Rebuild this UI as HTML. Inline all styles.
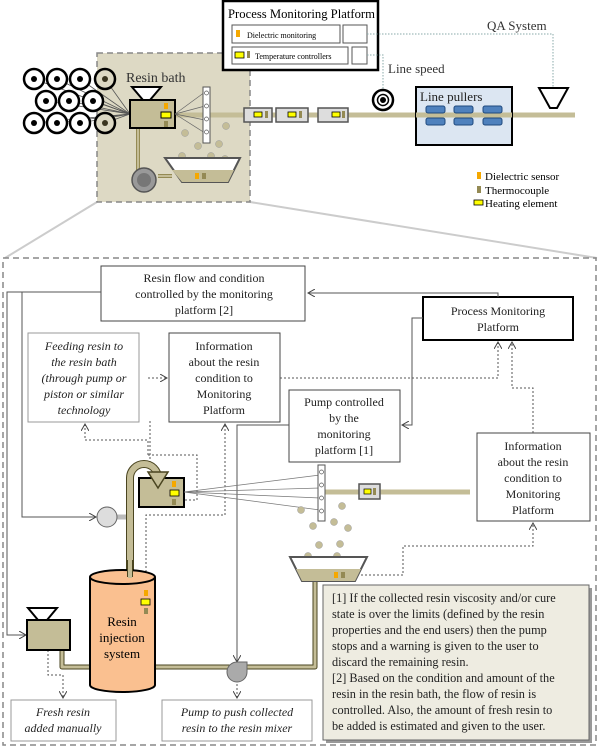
<!DOCTYPE html>
<html><head><meta charset="utf-8"><style>
html,body{margin:0;padding:0;background:#fff}
svg{display:block;font-family:"Liberation Serif",serif}
</style></head><body>
<svg width="600" height="747" viewBox="0 0 600 747" xmlns="http://www.w3.org/2000/svg">
<defs>
<marker id="a" markerWidth="8" markerHeight="8" refX="7" refY="4" orient="auto" markerUnits="userSpaceOnUse"><path d="M0,0 L7,4 L0,8" fill="none" stroke="#444" stroke-width="1"/></marker>
</defs>
<line x1="97" y1="202" x2="5" y2="258" stroke="#ccc" stroke-width="2"/>
<line x1="250" y1="202" x2="597" y2="258" stroke="#ccc" stroke-width="2"/>
<rect x="97" y="53" width="153" height="149" fill="#ddd9c4" stroke="#888" stroke-width="1.5" stroke-dasharray="6,4"/>
<g stroke="#555" stroke-width="0.8">
<line x1="34" y1="79" x2="130" y2="114"/><line x1="57" y1="79" x2="130" y2="114"/><line x1="80" y1="79" x2="130" y2="114"/><line x1="105" y1="79" x2="130" y2="114"/>
<line x1="46" y1="101" x2="130" y2="114"/><line x1="69" y1="101" x2="130" y2="114"/><line x1="93" y1="101" x2="130" y2="114"/>
<line x1="34" y1="123" x2="130" y2="114"/><line x1="57" y1="123" x2="130" y2="114"/><line x1="80" y1="123" x2="130" y2="114"/><line x1="105" y1="123" x2="130" y2="114"/>
</g>
<g stroke="#000" stroke-width="2.5" fill="#fff">
<circle cx="34" cy="79" r="10"/><circle cx="57" cy="79" r="10"/><circle cx="80" cy="79" r="10"/><circle cx="105" cy="79" r="10" fill="#ddd9c4"/>
<circle cx="46" cy="101" r="10"/><circle cx="69" cy="101" r="10"/><circle cx="93" cy="101" r="10"/>
<circle cx="34" cy="123" r="10"/><circle cx="57" cy="123" r="10"/><circle cx="80" cy="123" r="10"/><circle cx="105" cy="123" r="10" fill="#ddd9c4"/>
</g>
<g fill="#000"><circle cx="34" cy="79" r="3"/><circle cx="57" cy="79" r="3"/><circle cx="80" cy="79" r="3"/><circle cx="105" cy="79" r="3" fill="#3a3520"/>
<circle cx="46" cy="101" r="3"/><circle cx="69" cy="101" r="3"/><circle cx="93" cy="101" r="3"/>
<circle cx="34" cy="123" r="3"/><circle cx="57" cy="123" r="3"/><circle cx="80" cy="123" r="3"/><circle cx="105" cy="123" r="3" fill="#3a3520"/></g>
<text x="126" y="82" font-size="14" fill="#333">Resin bath</text>
<line x1="175" y1="115" x2="575" y2="115" stroke="#c4bd97" stroke-width="5"/>
<path d="M138,128 V178 H150 M158,176 H172" stroke="#948a54" stroke-width="4" fill="none"/>
<path d="M138,128 V178 H150 M158,176 H172" stroke="#c4bd97" stroke-width="2" fill="none"/>
<circle cx="144" cy="180" r="12" fill="#999" stroke="#555" stroke-width="1.5"/><circle cx="144" cy="180" r="7" fill="#777"/>
<polygon points="132,87 161,87 150,100 143,100" fill="#fff" stroke="#000" stroke-width="2"/>
<rect x="130" y="100" width="45" height="28" fill="#c4bd97" stroke="#000" stroke-width="2"/>
<rect x="164" y="103" width="4" height="6" fill="#f5a800"/><rect x="161" y="112" width="10" height="6" fill="#ff0" stroke="#000" stroke-width="1"/><rect x="164" y="121" width="4" height="6" fill="#948a54"/>
<g stroke="#666" stroke-width="0.7"><line x1="175" y1="114" x2="205" y2="92"/><line x1="175" y1="114" x2="205" y2="106"/><line x1="175" y1="114" x2="205" y2="120"/><line x1="175" y1="114" x2="205" y2="133"/></g>
<rect x="203" y="87" width="7" height="56" fill="#fff" stroke="#555"/>
<g fill="#fff" stroke="#555" stroke-width="0.7"><circle cx="206.5" cy="93" r="2"/><circle cx="206.5" cy="106" r="2"/><circle cx="206.5" cy="119" r="2"/><circle cx="206.5" cy="132" r="2"/></g>
<g fill="#c4bd97" stroke="#999" stroke-width="0.5"><circle cx="185" cy="133" r="3.5"/><circle cx="226" cy="126" r="3.5"/><circle cx="198" cy="146" r="3.5"/><circle cx="219" cy="144" r="3.5"/><circle cx="182" cy="156" r="3.5"/><circle cx="211" cy="156" r="3.5"/><circle cx="225" cy="159" r="3.5"/></g>
<polygon points="165,158 240,158 228,182 182,182" fill="#fff" stroke="#555" stroke-width="2"/>
<polygon points="172,170 234,170 228,182 182,182" fill="#c4bd97"/>
<rect x="195" y="173" width="4" height="6" fill="#f5a800"/><rect x="202" y="173" width="4" height="6" fill="#948a54"/>
<g stroke="#555" stroke-width="1.5"><rect x="244" y="108" width="28" height="14" fill="#ddd"/><rect x="276" y="108" width="32" height="14" fill="#ddd"/><rect x="318" y="108" width="30" height="14" fill="#ddd"/></g>
<g fill="#ff0" stroke="#000" stroke-width="0.8"><rect x="254" y="112" width="8" height="5"/><rect x="288" y="112" width="8" height="5"/><rect x="332" y="112" width="8" height="5"/></g>
<g fill="#948a54"><rect x="265" y="111" width="3" height="7"/><rect x="299" y="111" width="3" height="7"/><rect x="342" y="111" width="3" height="7"/></g>
<rect x="223" y="1" width="155" height="69" fill="#fff" stroke="#000" stroke-width="2.5"/>
<text x="228" y="18" font-size="12.5" textLength="147" lengthAdjust="spacingAndGlyphs">Process Monitoring  Platform</text>
<rect x="232" y="25" width="108" height="18" fill="#fff" stroke="#555"/><rect x="343" y="25" width="24" height="18" fill="#fff" stroke="#555"/>
<rect x="236" y="30" width="4" height="7" fill="#f5a800"/>
<text x="247" y="38" font-size="8">Dielectric monitoring</text>
<rect x="232" y="47" width="116" height="17" fill="#fff" stroke="#555"/><rect x="352" y="47" width="15" height="17" fill="#fff" stroke="#555"/>
<rect x="235" y="52" width="9" height="6" fill="#ff0" stroke="#000" stroke-width="0.8"/><rect x="247" y="51" width="3" height="7" fill="#948a54"/>
<text x="255" y="59" font-size="8">Temperature controllers</text>
<path d="M367,34 H553 V88" stroke="#8aa" stroke-width="1" stroke-dasharray="1.5,1.5" fill="none"/>
<path d="M367,55 H383 V90" stroke="#8aa" stroke-width="1" stroke-dasharray="1.5,1.5" fill="none"/>
<text x="487" y="30" font-size="13" fill="#333">QA System</text>
<text x="388" y="73" font-size="13" fill="#333">Line speed</text>
<circle cx="383" cy="100" r="10" fill="#fff" stroke="#000" stroke-width="2.5"/><circle cx="383" cy="100" r="5.5" fill="#fff" stroke="#000" stroke-width="1.5"/><circle cx="383" cy="100" r="3" fill="#000"/>
<rect x="416" y="87" width="96" height="58" fill="#dce6f2" stroke="#000" stroke-width="2"/>
<line x1="416" y1="115" x2="512" y2="115" stroke="#c4bd97" stroke-width="5"/>
<text x="420" y="101" font-size="13" fill="#222">Line pullers</text>
<g fill="#4f81bd" stroke="#1f497d" stroke-width="1"><rect x="426" y="106" width="19" height="7" rx="2"/><rect x="454" y="106" width="19" height="7" rx="2"/><rect x="483" y="106" width="19" height="7" rx="2"/><rect x="426" y="118" width="19" height="7" rx="2"/><rect x="454" y="118" width="19" height="7" rx="2"/><rect x="483" y="118" width="19" height="7" rx="2"/></g>
<polygon points="539,88 568,88 557,108 550,108" fill="#fff" stroke="#000" stroke-width="2"/>
<rect x="477" y="172" width="4" height="7" fill="#f5a800"/><text x="485" y="180" font-size="11">Dielectric sensor</text>
<rect x="477" y="186" width="4" height="7" fill="#948a54"/><text x="485" y="194" font-size="11">Thermocouple</text>
<rect x="474" y="200" width="9" height="5" fill="#ff0" stroke="#000" stroke-width="0.8"/><text x="485" y="207" font-size="11">Heating element</text>

<rect x="3" y="258" width="593" height="487" fill="none" stroke="#888" stroke-width="1.5" stroke-dasharray="6,4"/>
<g font-size="12" text-anchor="middle" fill="#222">
<rect x="101" y="266" width="204" height="55" fill="#fff" stroke="#444"/>
<text x="204" y="282">Resin flow and condition</text><text x="204" y="298">controlled by the monitoring</text><text x="204" y="314">platform [2]</text>
<rect x="28" y="333" width="111" height="89" fill="#fff" stroke="#999"/>
<g font-style="italic"><text x="84" y="350">Feeding resin to</text><text x="84" y="366">the resin bath</text><text x="84" y="382">(through pump or</text><text x="84" y="398">piston or similar</text><text x="84" y="414">technology</text></g>
<rect x="169" y="333" width="111" height="89" fill="#fff" stroke="#444"/>
<text x="224" y="350">Information</text><text x="224" y="366">about the resin</text><text x="224" y="382">condition to</text><text x="224" y="398">Monitoring</text><text x="224" y="414">Platform</text>
<rect x="423" y="297" width="150" height="43" fill="#fff" stroke="#000" stroke-width="2"/>
<text x="498" y="315">Process Monitoring</text><text x="498" y="331">Platform</text>
<rect x="289" y="390" width="111" height="72" fill="#fff" stroke="#444"/>
<text x="344" y="406">Pump  controlled</text><text x="344" y="422">by the</text><text x="344" y="438">monitoring</text><text x="344" y="454">platform [1]</text>
<rect x="477" y="433" width="113" height="88" fill="#fff" stroke="#444"/>
<text x="533" y="450">Information</text><text x="533" y="466">about the resin</text><text x="533" y="482">condition to</text><text x="533" y="498">Monitoring</text><text x="533" y="514">Platform</text>
<rect x="11" y="700" width="105" height="41" fill="#fff" stroke="#999"/>
<rect x="162" y="700" width="150" height="41" fill="#fff" stroke="#999"/>
<g font-style="italic"><text x="63" y="716">Fresh resin</text><text x="63" y="732">added manually</text>
<text x="237" y="716">Pump to push collected</text><text x="237" y="732">resin to the resin mixer</text></g>
</g>
<g stroke="#555" stroke-width="1" fill="none">
<path d="M101,292 H7 V635 H26" marker-end="url(#a)"/>
<path d="M22,292 V517 H96" marker-end="url(#a)"/>
<path d="M498,297 V293 H308" marker-end="url(#a)"/>
<path d="M423,318 H412 V425 H402" marker-end="url(#a)"/>
<path d="M289,425 H237 V662" marker-end="url(#a)"/>
</g>
<g stroke="#555" stroke-width="1" fill="none" stroke-dasharray="2,2">
<path d="M280,378 H498 V342" marker-end="url(#a)"/>
<path d="M533,433 V388 H512 V342" marker-end="url(#a)"/>
<path d="M345,575 H403 V546 H533 V523" marker-end="url(#a)"/>
<path d="M148,455 H197 V500 H185"/>
<path d="M146,600 V515 H225 V424" marker-end="url(#a)"/>
<path d="M148,455 V440 H85 V424" marker-end="url(#a)"/>
<path d="M150,463 V420"/>
<path d="M148,378 H167" marker-end="url(#a)"/>
<path d="M48,650 V675 H63 V698" marker-end="url(#a)"/>
<path d="M237,680 V698" marker-end="url(#a)"/>
</g>
<g fill="none" stroke-linejoin="round">
<path d="M62,650 V667 H315 V580" stroke="#4a4520" stroke-width="5"/>
<path d="M62,650 V667 H315 V580" stroke="#c4bd97" stroke-width="3"/>
<path d="M130,578 V478 A14,14 0 0 1 158,478" stroke="#4a4520" stroke-width="8"/>
<path d="M130,578 V478 A14,14 0 0 1 158,478" stroke="#c4bd97" stroke-width="6"/>
<line x1="324" y1="492" x2="470" y2="492" stroke="#c4bd97" stroke-width="5"/>
<line x1="117" y1="517" x2="126" y2="517" stroke="#bbb" stroke-width="5"/>
</g>
<path d="M90,577 V685 A32.5,7 0 0 0 155,685 V577" fill="#fac090" stroke="#000" stroke-width="2"/>
<ellipse cx="122.5" cy="577" rx="32.5" ry="7" fill="#fac090" stroke="#000" stroke-width="2"/>
<line x1="130" y1="560" x2="130" y2="577" stroke="#4a4520" stroke-width="6"/><line x1="130" y1="560" x2="130" y2="578" stroke="#c4bd97" stroke-width="4"/>
<text x="122" y="626" font-size="13" text-anchor="middle">Resin</text><text x="122" y="642" font-size="13" text-anchor="middle">injection</text><text x="122" y="658" font-size="13" text-anchor="middle">system</text>
<rect x="144" y="590" width="4" height="6" fill="#f5a800"/><rect x="141" y="599" width="9" height="6" fill="#ff0" stroke="#000" stroke-width="0.8"/><rect x="144" y="608" width="4" height="6" fill="#948a54"/>
<rect x="139" y="478" width="45" height="29" fill="#c4bd97" stroke="#000" stroke-width="2"/>
<polygon points="148,472 168,472 158,488" fill="#c4bd97" stroke="#4a4520" stroke-width="1.5"/>
<rect x="172" y="481" width="4" height="6" fill="#f5a800"/><rect x="170" y="490" width="9" height="6" fill="#ff0" stroke="#000" stroke-width="0.8"/><rect x="172" y="499" width="4" height="6" fill="#948a54"/>
<g stroke="#777" stroke-width="0.7"><line x1="184" y1="492" x2="320" y2="475"/><line x1="184" y1="492" x2="320" y2="488"/><line x1="184" y1="492" x2="320" y2="498"/><line x1="184" y1="492" x2="320" y2="510"/></g>
<rect x="318" y="465" width="7" height="56" fill="#fff" stroke="#555"/>
<g fill="#fff" stroke="#555" stroke-width="0.7"><circle cx="321.5" cy="472" r="2"/><circle cx="321.5" cy="485" r="2"/><circle cx="321.5" cy="498" r="2"/><circle cx="321.5" cy="511" r="2"/></g>
<rect x="359" y="484" width="21" height="15" fill="#ddd" stroke="#555" stroke-width="1.5"/><rect x="364" y="489" width="7" height="5" fill="#ff0" stroke="#000" stroke-width="0.7"/><rect x="373" y="488" width="3" height="7" fill="#948a54"/>
<g fill="#c4bd97" stroke="#999" stroke-width="0.5"><circle cx="301" cy="510" r="3.5"/><circle cx="342" cy="506" r="3.5"/><circle cx="313" cy="526" r="3.5"/><circle cx="334" cy="522" r="3.5"/><circle cx="348" cy="528" r="3.5"/><circle cx="319" cy="545" r="3.5"/><circle cx="340" cy="544" r="3.5"/><circle cx="308" cy="556" r="3.5"/><circle cx="337" cy="556" r="3.5"/><circle cx="351" cy="560" r="3.5"/></g>
<polygon points="290,557 367,557 355,581 302,581" fill="#fff" stroke="#555" stroke-width="2"/>
<polygon points="296,569 361,569 355,581 302,581" fill="#c4bd97"/>
<rect x="334" y="572" width="4" height="6" fill="#f5a800"/><rect x="341" y="572" width="4" height="6" fill="#948a54"/>
<circle cx="107" cy="517" r="10" fill="#ddd" stroke="#666"/>
<path d="M237,662 A10,10 0 1 0 247,672 V662 Z" fill="#aaa" stroke="#666"/>
<polygon points="28,608 57,608 47,620 38,620" fill="#fff" stroke="#000" stroke-width="2"/>
<rect x="27" y="620" width="43" height="30" fill="#c4bd97" stroke="#000" stroke-width="2"/>
<rect x="326" y="588" width="266" height="155" fill="#999"/>
<rect x="323" y="585" width="266" height="155" fill="#eeece1" stroke="#666"/>
<g font-size="12.3" fill="#222">
<text x="332" y="602">[1] If the collected resin viscosity and/or cure</text>
<text x="332" y="618">state is over the limits (defined by the resin</text>
<text x="332" y="634">properties and the end users) then the pump</text>
<text x="332" y="650">stops and a warning is given to the user to</text>
<text x="332" y="666">discard the remaining  resin.</text>
<text x="332" y="682">[2] Based on the condition and amount  of the</text>
<text x="332" y="698">resin in the resin bath, the flow of resin is</text>
<text x="332" y="714">controlled. Also, the amount  of fresh resin to</text>
<text x="332" y="730">be added is estimated and given to the user.</text>
</g>
</svg>
</body></html>
